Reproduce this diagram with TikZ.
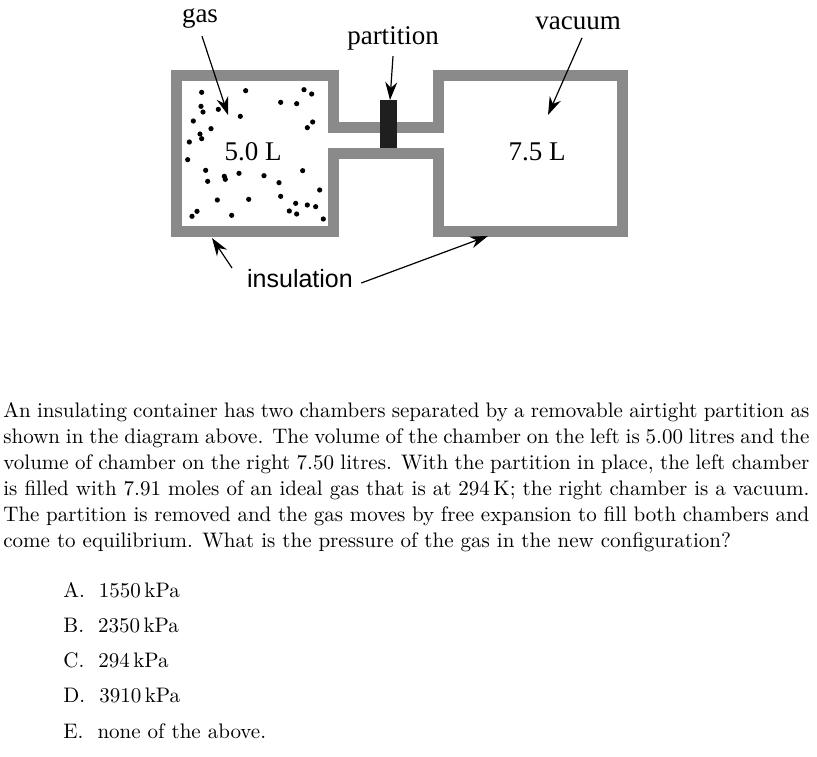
\documentclass[tikz,border=0pt]{standalone}
\usepackage{fontspec}
\usetikzlibrary{arrows.meta}
\newfontfamily\lserif{Liberation Serif}
\newfontfamily\lsans{Liberation Sans}
\begin{document}
\begin{tikzpicture}[x=0.5pt,y=-0.5pt,
  lab/.style={font=\lserif\fontsize{13.5}{15}\selectfont,inner sep=0},
  arr/.style={-{Stealth[length=9pt,width=6pt]},line width=0.6pt},
  opt/.style={anchor=west,font=\fontsize{10.5}{12}\selectfont,inner sep=0}]
\useasboundingbox (0,0) rectangle (817,756);
\draw[line width=5.5pt,color={rgb,255:red,138;green,138;blue,138},line join=miter]
 (176.5,75.5) -- (333.5,75.5) -- (333.5,127.5) -- (438.5,127.5) -- (438.5,75.5) -- (622.5,75.5)
 -- (622.5,231.5) -- (438.5,231.5) -- (438.5,153.5) -- (333.5,153.5) -- (333.5,231.5) -- (176.5,231.5) -- cycle;
\fill[black!88] (380,100) rectangle (397,148);
\begin{scope}[shift={(160,60)},x=0.5pt/3,y=-0.5pt/3]
\foreach \p in {(125,97),(257,92),(432,89),(455,102),(362,127),(410,131),(123,139),(129,156),(175,148),(241,169),(100,183),(458,186),(442,203),(153,206),(120,222),(125,236),(88,246),(83,299),(137,331),(143,364),(193,349),(196,358),(237,340),(312,347),(357,368),(428,332),(479,390),(172,420),(266,418),(362,409),(407,430),(442,435),(467,440),(388,453),(410,462),(490,477),(111,454),(96,469),(215,466)}
  \fill \p circle (1.3pt);
\end{scope}
\node[lab] (l5) at (253,152) {5.0 L};
\node[lab] (l7) at (537,152) {7.5 L};
\node[lab] (gas) at (200,18) {gas};
\node[lab] (part) at (393,38) {partition};
\node[lab] (vac) at (578,23) {vacuum};
\node[lab,font=\lsans\fontsize{12.5}{14}\selectfont] (ins) at (300,279) {insulation};
\coordinate (gt) at (228,115);
\coordinate (pt) at (390,100);
\coordinate (vt) at (548,115);
\coordinate (i1) at (212,238);
\coordinate (i2) at (488,236);
\draw[arr] (gas.south) ++(2,8) -- (gt);
\draw[arr] (part.south) ++(0,6) -- (pt);
\draw[arr] (vac.south) ++(4,8) -- (vt);
\draw[arr] (232,268) -- (i1);
\draw[arr] (ins.east) ++(8,4) -- (i2);
\node[anchor=north west,inner sep=0,text width=403pt,align=justify,font=\fontsize{10.5}{13}\selectfont] (para) at (3,402) {An insulating container has two chambers separated by a removable airtight partition as\linebreak shown in the diagram above. The volume of the chamber on the left is 5.00 litres and the\linebreak volume of chamber on the right 7.50 litres. With the partition in place, the left chamber\linebreak is filled with 7.91 moles of an ideal gas that is at 294\,K; the right chamber is a vacuum.\linebreak The partition is removed and the gas moves by free expansion to fill both chambers and\linebreak come to equilibrium. What is the pressure of the gas in the new configuration?};
\node[opt] (a) at (63,590) {A.\ \ 1550\,kPa};
\node[opt] (b) at (63,625) {B.\ \ 2350\,kPa};
\node[opt] (c) at (63,660) {C.\ \ 294\,kPa};
\node[opt] (d) at (63,695) {D.\ \ 3910\,kPa};
\node[opt] (e) at (63,731) {E.\ \ none of the above.};
\end{tikzpicture}
\end{document}
